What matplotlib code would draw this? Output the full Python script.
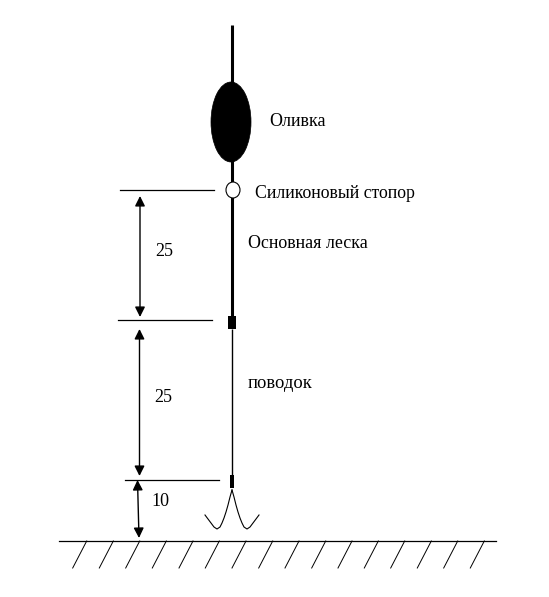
import matplotlib.pyplot as plt
from matplotlib.patches import Ellipse, Rectangle

# picture is 549x597, so axes are just pixels with y going down
W, H = 549, 597

# =========================
# DATA
# =========================

labels = ["Оливка", "Силиконовый стопор", "Основная леска", "поводок"]
label_x = [269, 255, 248, 248]
label_y = [121, 193, 243, 384]

# distances: value, text position, arrow start/end
sizes = ["25", "25", "10"]
size_x = [155, 154, 151]
size_y = [252, 397, 502]
arrow_top = [(140, 196), (139.5, 329), (137.5, 480)]
arrow_bottom = [(140, 317), (139.5, 476), (139, 538)]

# horizontal level lines
level_y = [190, 320, 480]
level_x0 = [120, 118, 125]
level_x1 = [214, 212, 219]

# ground hatch (bottom ends, left to right)
hatch_x = [72.7, 99.3, 125.7, 152.3, 179, 205.3, 232, 258.7,
           285, 311.7, 338, 364.3, 390.7, 417.3, 443.7, 470.3]

# hook curves
hook_left_x = [232, 230, 228, 226, 224, 222, 220, 217, 214, 211, 208, 205]
hook_left_y = [490, 497, 505, 512, 518, 523, 527, 529, 527, 523, 519, 515]
hook_right_x = [232, 234, 236, 238, 240, 242, 244, 247, 250, 253, 256, 259]
hook_right_y = [490, 497, 505, 512, 518, 523, 527, 529, 527, 523, 519, 515]

# =========================
# PLOT
# =========================

plt.rcParams["font.family"] = "Liberation Serif"

fig = plt.figure(figsize=(W / 100, H / 100), dpi=100)
ax = fig.add_axes([0, 0, 1, 1])
ax.set_xlim(0, W)
ax.set_ylim(H, 0)
ax.axis("off")

# main line and leader
ax.plot([232, 232], [25, 316], color="black", lw=2.2, solid_capstyle="butt")
ax.plot([231.5, 231.5], [329, 475], color="black", lw=1.0, solid_capstyle="butt")

# float
ax.add_patch(Ellipse((231, 122), 40, 80, fc="black", ec="black", lw=0.5, zorder=3))

# stopper
ax.add_patch(Ellipse((233, 190), 14, 16, fc="white", ec="black", lw=0.8, zorder=3))

# swivels
ax.add_patch(Rectangle((228.3, 316), 7.4, 13, fc="black", ec="none", zorder=3))
ax.add_patch(Rectangle((230, 475), 4, 13, fc="black", ec="none", zorder=3))

# hooks
ax.plot(hook_left_x, hook_left_y, color="black", lw=0.8)
ax.plot(hook_right_x, hook_right_y, color="black", lw=0.8)

# level lines
for y, x0, x1 in zip(level_y, level_x0, level_x1):
    ax.plot([x0, x1], [y, y], color="black", lw=0.9)

# dimension arrows
for top, bottom in zip(arrow_top, arrow_bottom):
    ax.annotate("", xy=top, xytext=bottom,
                arrowprops=dict(arrowstyle="<|-|>", color="black", lw=1.0,
                                mutation_scale=15, shrinkA=0, shrinkB=0))

# ground
ax.plot([59, 496], [541, 541], color="black", lw=0.9)
for x in hatch_x:
    ax.plot([x, x + 14], [568, 541], color="black", lw=0.7)

# text
sizes_pt = [13, 12.8, 12.9, 13.3]
for s, x, y, pt in zip(labels, label_x, label_y, sizes_pt):
    ax.text(x, y, s, fontsize=pt, ha="left", va="center", color="black")

for s, x, y in zip(sizes, size_x, size_y):
    ax.text(x, y, s, fontsize=13, ha="left", va="center", color="black")

fig.savefig("out.png", dpi=100)
